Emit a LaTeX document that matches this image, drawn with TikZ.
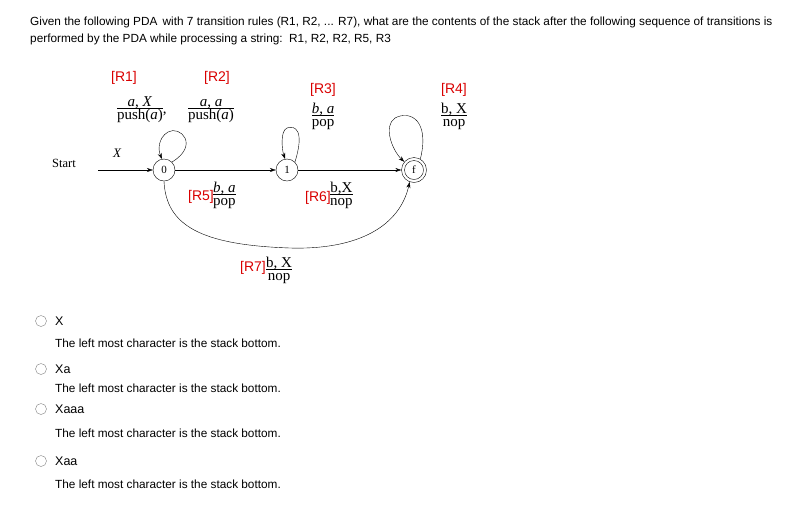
\documentclass[tikz,border=0pt]{standalone}
\usepackage{fontspec}
\setmainfont{Liberation Sans}
\newfontfamily\serifx{Liberation Serif}
\usetikzlibrary{arrows.meta}
\newcommand{\fr}[2]{\begin{tabular}{@{}c@{}}#1\\[-3pt]\hline\rule{0pt}{11pt}#2\end{tabular}}
\begin{document}
\begin{tikzpicture}[x=1pt,y=-1pt,
  st/.style={circle,draw,inner sep=0pt,minimum size=22pt,font=\serifx\fontsize{11}{12}\selectfont},
  tr/.style={-{Stealth[length=6pt,width=4pt]},thin},
  tag/.style={text=red!85!black,font=\fontsize{14}{15}\selectfont,inner sep=0pt},
  frac/.style={font=\serifx\fontsize{15}{16}\selectfont,inner sep=0pt},
  body/.style={anchor=base west,inner sep=0pt,font=\fontsize{11.8}{13}\selectfont},
  opt/.style={anchor=base west,inner sep=0pt,font=\fontsize{12.5}{13}\selectfont},
  radio/.style={circle,draw=gray,minimum size=11pt,inner sep=0pt}]
\useasboundingbox (0,0) rectangle (799,507);
\node[body] (q1) at (30,25) {Given the following PDA\, with 7 transition rules (R1, R2, ... R7), what are the contents of the stack after the following sequence of transitions is};
\node[body] (q2) at (30,42) {performed by the PDA while processing a string:\ \ R1, R2, R2, R5, R3};
% states
\node[st] (s0) at (164,170) {0};
\node[st] (s1) at (287,170) {1};
\node[st,minimum size=25pt] (sf) at (414,170) {f};
\node[circle,draw,minimum size=19pt,inner sep=0pt] (sfi) at (414,170) {};
\node[font=\serifx\fontsize{12.5}{13}\selectfont,inner sep=0pt] (start) at (64,163) {Start};
\coordinate (st0) at (98,170);
\draw[tr] (st0) -- (s0);
\node[font=\serifx\itshape\fontsize{13}{14}\selectfont] (xl) at (117,153) {X};
\draw[tr] (s0) -- (s1);
\draw[tr] (s1) -- (sf);
\draw[tr] (s0.45) .. controls (200,145) and (180,125) .. (168,132) .. controls (158,138) and (158,150) .. (s0.100);
\draw[tr] (s1.45) .. controls (305,130) and (295,125) .. (287,128) .. controls (280,131) and (282,150) .. (s1.100);
\draw[tr] (sf.60) .. controls (430,120) and (410,110) .. (395,118) .. controls (383,126) and (392,150) .. (sf.140);
\draw[tr] (s0.south) .. controls (166,225) and (200,245) .. (290,248) .. controls (360,250) and (400,225) .. (sf.250);
% labels
\node[tag] (r1) at (124,78) {[R1]};
\node[tag] (r2) at (217,78) {[R2]};
\node[tag] (r3) at (323,90) {[R3]};
\node[tag] (r4) at (454,90) {[R4]};
\node[frac] (f1) at (140,110) {\fr{\textit{a}, \textit{X}}{push(\textit{a})}\rlap{,}};
\node[frac] (f2) at (211,110) {\fr{\textit{a}, \textit{a}}{push(\textit{a})}};
\node[frac] (f3) at (323,117) {\fr{\textit{b}, \textit{a}}{pop}};
\node[frac] (f4) at (454,117) {\fr{b, X}{nop}};
\node[tag,anchor=east] (r5) at (214,197) {[R5]};
\node[frac,anchor=west] (f5) at (213,196) {\fr{\textit{b}, \textit{a}}{pop}};
\node[tag,anchor=east] (r6) at (331,198) {[R6]};
\node[frac,anchor=west] (f6) at (330,196) {\fr{b,X}{nop}};
\node[tag,anchor=east] (r7) at (266,268) {[R7]};
\node[frac,anchor=west] (f7) at (266,271) {\fr{b, X}{nop}};
% options
\node[radio] (o1) at (41,321) {};
\node[radio] (o2) at (41,369) {};
\node[radio] (o3) at (41,409) {};
\node[radio] (o4) at (41,461) {};
\node[opt] (a1) at (55,325) {X};
\node[opt] (a2) at (55,373) {Xa};
\node[opt] (a3) at (55,413) {Xaaa};
\node[opt] (a4) at (55,465) {Xaa};
\node[body] (n1) at (55,347) {The left most character is the stack bottom.};
\node[body] (n2) at (55,392) {The left most character is the stack bottom.};
\node[body] (n3) at (55,437) {The left most character is the stack bottom.};
\node[body] (n4) at (55,488) {The left most character is the stack bottom.};
\end{tikzpicture}
\end{document}
